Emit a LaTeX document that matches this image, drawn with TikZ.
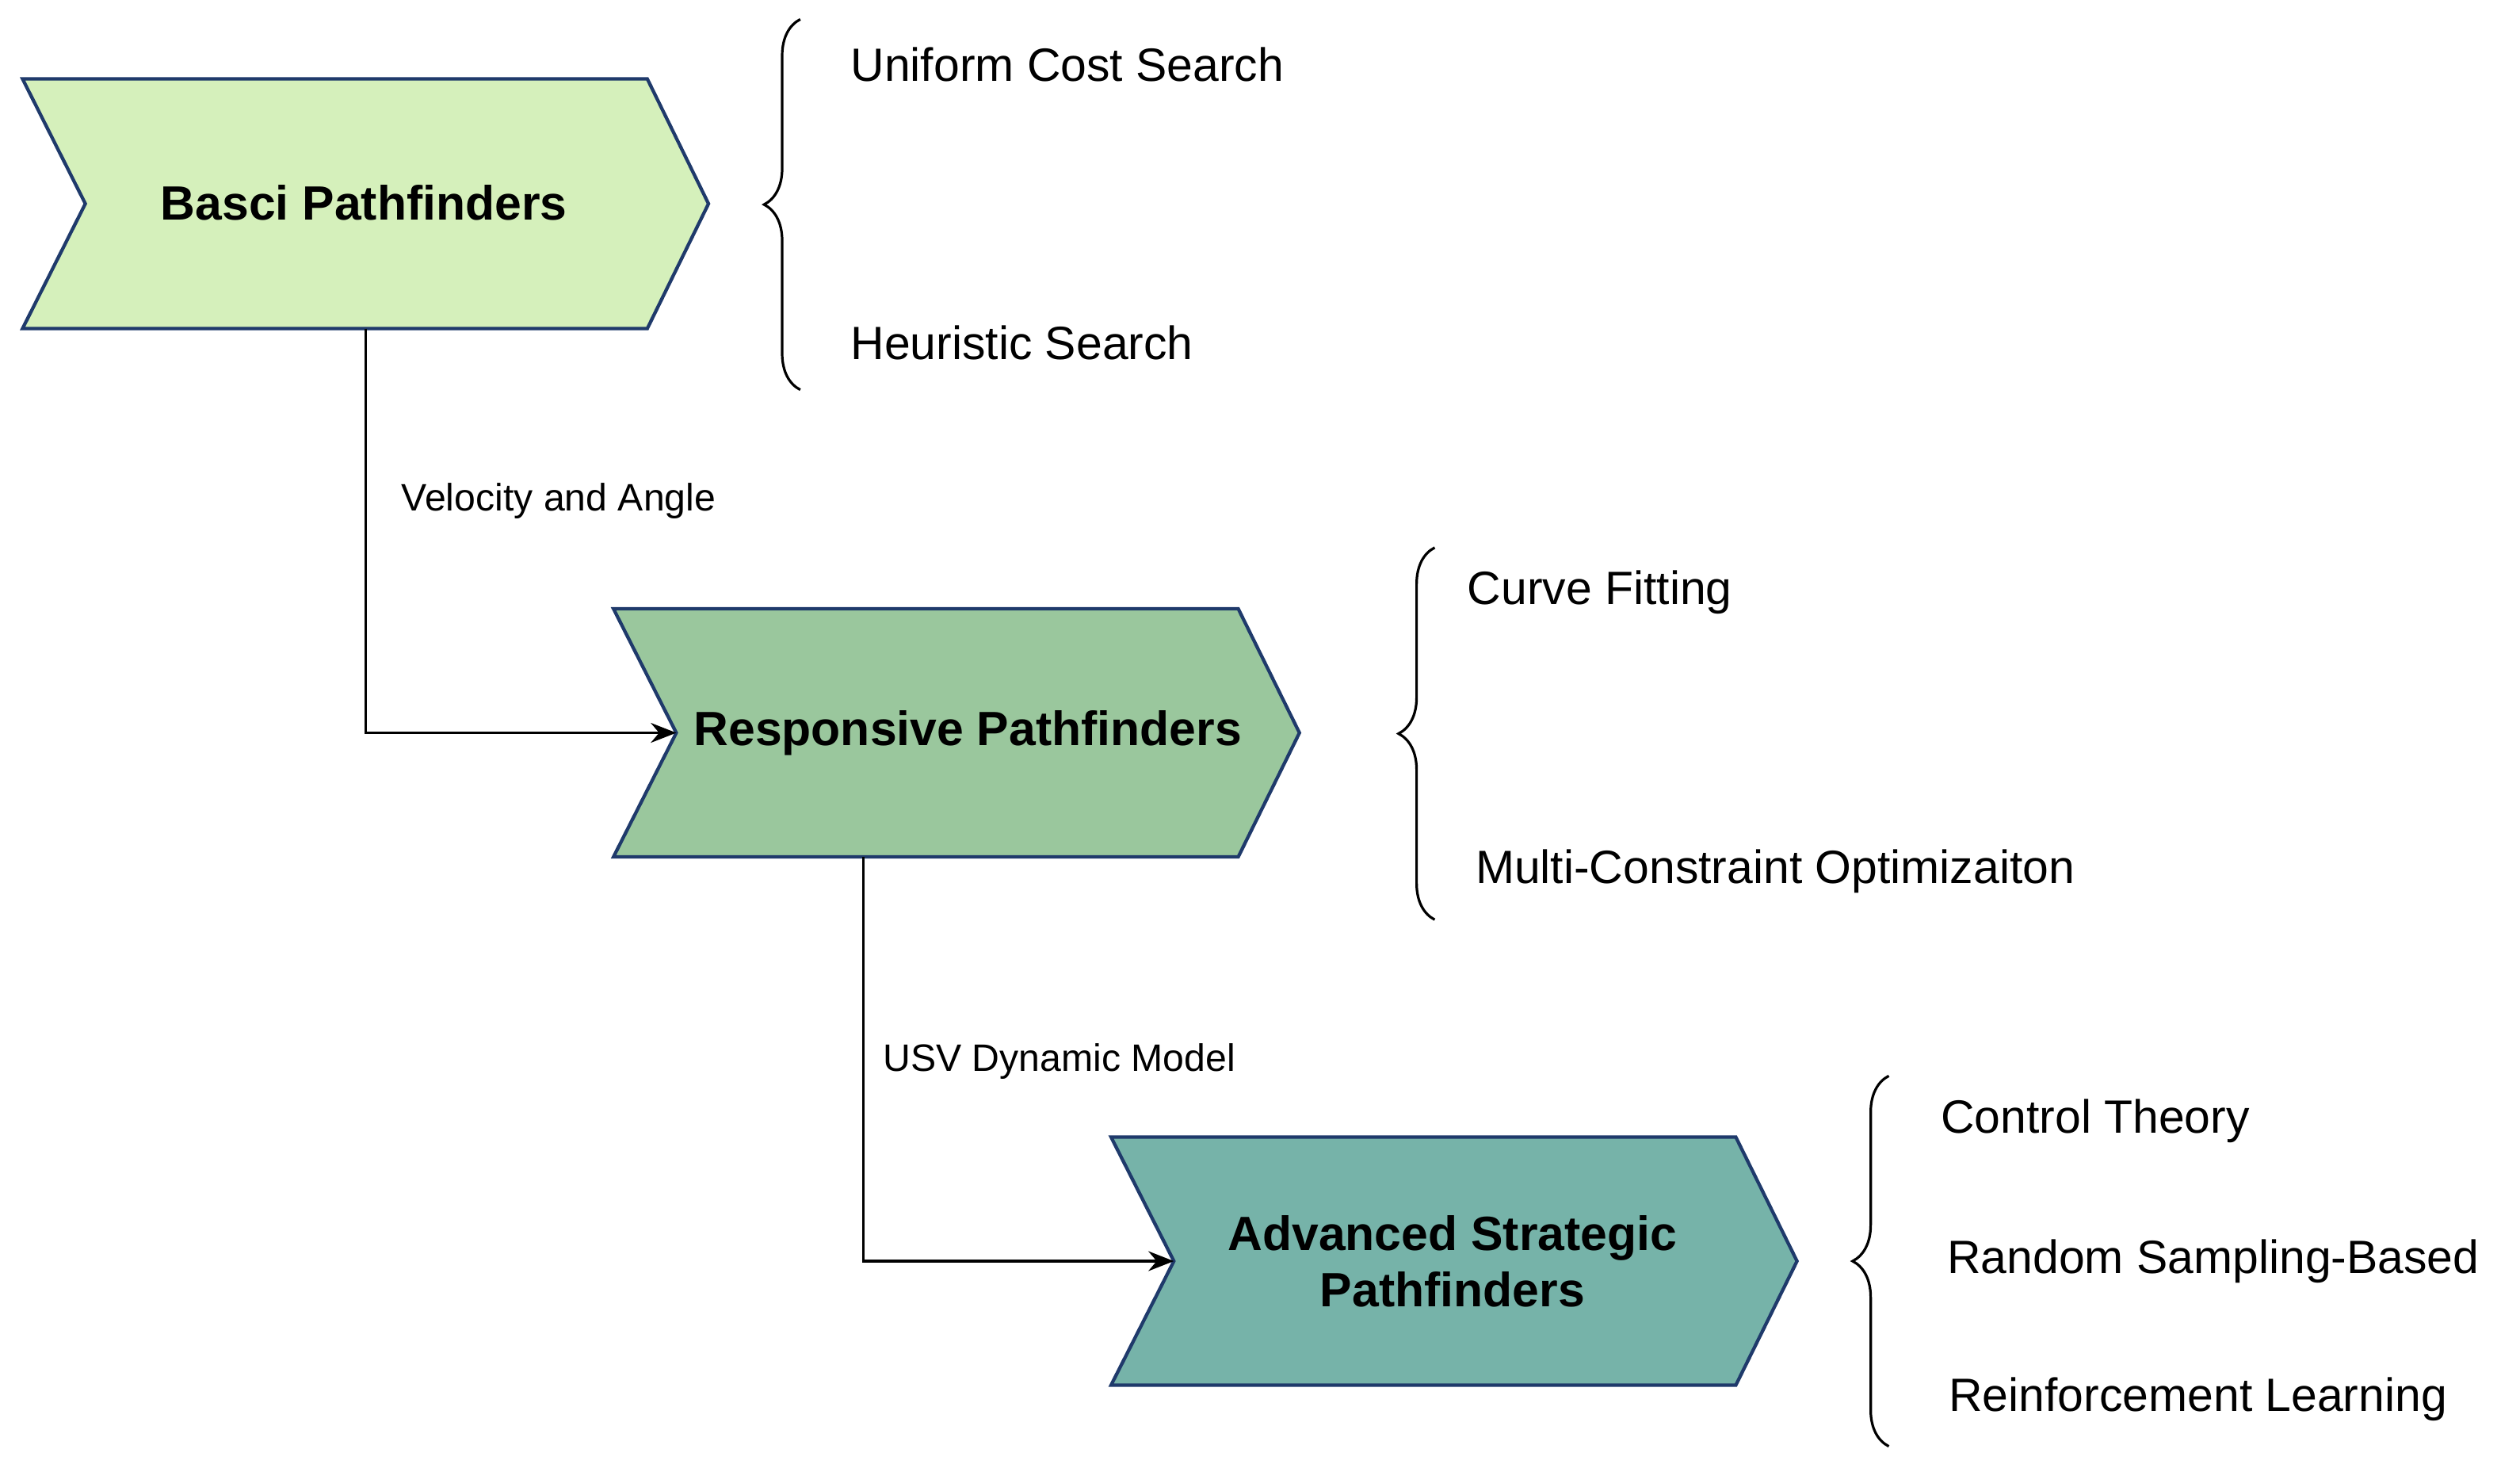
\documentclass[tikz,border=0pt]{standalone}
\usepackage{fontspec}
\setmainfont{Liberation Sans}
\usetikzlibrary{decorations.pathreplacing,arrows.meta}
\definecolor{basicfill}{HTML}{D5F0BB}
\definecolor{respfill}{HTML}{9AC79D}
\definecolor{advfill}{HTML}{76B3A9}
\definecolor{chevline}{HTML}{1F3A6B}
\tikzset{
  chev/.style={draw=chevline, line width=1.2pt},
  title/.style={font=\fontsize{17}{20}\selectfont\bfseries, align=center},
  item/.style={font=\fontsize{16.5}{19}\selectfont, anchor=west, inner sep=0pt},
  lbl/.style={font=\fontsize{13.5}{16}\selectfont, anchor=west, inner sep=0pt},
  brc/.style={decorate, decoration={brace, amplitude=0.45cm}, line width=0.9pt},
  flow/.style={line width=0.9pt, -{Stealth[length=9pt,width=7pt]}}
}
\newcommand{\chevron}[4]{% fill, left x, top y, bottom y
  \draw[chev, fill=#1] (#2,#3) -- (#2+388,#3) -- (#2+426,#3/2+#4/2) -- (#2+388,#4)
    -- (#2,#4) -- (#2+39,#3/2+#4/2) -- cycle;}
\begin{document}
\begin{tikzpicture}[x=0.02cm, y=-0.02cm]
\useasboundingbox (0,0) rectangle (1565,911);
% chevrons
\chevron{basicfill}{14}{49}{204}
\chevron{respfill}{381}{378}{532}
\chevron{advfill}{690}{706}{860}
\node[title] (basic) at (226,126) {Basci Pathfinders};
\node[title] (resp) at (601,455) {Responsive Pathfinders};
\node[title] (adv) at (902,783) {Advanced Strategic\\Pathfinders};
\coordinate (bout) at (227,204);
\coordinate (rin) at (420,455);
\coordinate (rout) at (536,532);
\coordinate (ain) at (729,783);
% connectors
\draw[flow] (bout) |- (rin);
\draw[flow] (rout) |- (ain);
\node[lbl] (va) at (249,311) {Velocity and Angle};
\node[lbl] (usv) at (548,659) {USV Dynamic Model};
% braces
\draw[brc] (497,242) -- (497,12);
\draw[brc] (891,571) -- (891,340);
\draw[brc] (1173,898) -- (1173,668);
\node[item] (ucs) at (528,40) {Uniform Cost Search};
\node[item] (hs) at (528,213) {Heuristic Search};
\node[item] (cf) at (911,368) {Curve Fitting};
\node[item] (mco) at (916,541) {Multi-Constraint Optimizaiton};
\node[item] (ct) at (1205,696) {Control Theory};
\node[item] (rsb) at (1209,783) {Random Sampling-Based};
\node[item] (rl) at (1210,869) {Reinforcement Learning};
\end{tikzpicture}
\end{document}
